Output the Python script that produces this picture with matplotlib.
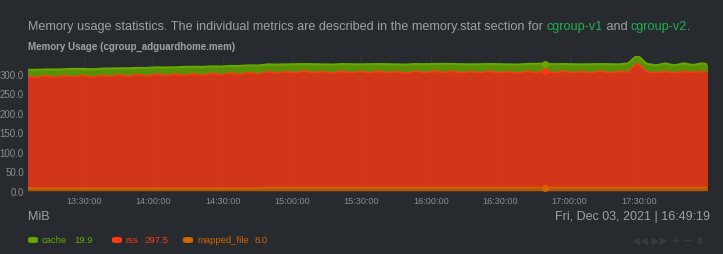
import numpy as np
import pandas as pd
import matplotlib
matplotlib.use("Agg")
import matplotlib.pyplot as plt
from matplotlib.patches import FancyBboxPatch

# data (MiB), sampled every 4 minutes starting 13:05:19
start = "2021-12-03 13:05:19"
rss = [287, 283, 288, 284, 288, 285, 289, 284, 289, 286,
       290, 286, 291, 287, 292, 288, 292, 289, 293, 289,
       294, 290, 295, 291, 296, 292, 297, 293, 297, 294,
       298, 294, 297, 293, 298, 294, 297, 294, 298, 294,
       297, 293, 298, 294, 298, 295, 298, 294, 297, 294,
       298, 294, 297, 293, 298, 295, 297.5, 294, 298, 294,
       297, 294, 298, 294, 297, 296, 318, 296, 294, 297,
       294, 297, 295, 297, 295]
cache = [16, 20, 16, 20, 16.5, 20.5, 16.5, 20.5, 17, 20.5,
         17, 21, 17, 21, 17.5, 21, 17.5, 21.5, 18, 21.5,
         18, 21.5, 18, 22, 18.5, 22, 18.5, 22, 18.5, 22,
         18.5, 22, 18.5, 22, 18.5, 22, 18.5, 22, 18.5, 22,
         18.5, 22, 18.5, 22, 18.5, 22, 18.5, 22, 18.5, 22,
         18.5, 22, 18.5, 22, 18.5, 22, 19.9, 22, 18.5, 22,
         18.5, 22, 18.5, 22, 18.5, 22, 21, 21, 19, 21,
         19, 21, 19, 21, 19]
mapped_file = [6.5] * 26 + [8.0] * 49
hover_idx = 56
yticks = [0, 50, 100, 150, 200, 250, 300]
xtick_labels = ["13:30:00", "14:00:00", "14:30:00", "15:00:00", "15:30:00",
                "16:00:00", "16:30:00", "17:00:00", "17:30:00"]

BG = "#272b30"
C_CACHE = "#66aa00"
C_RSS = "#fe3912"
C_MAP = "#d66300"
TXT = "#a0a0a0"
LINK = "#1fb04c"

plt.rcParams["font.family"] = ["Liberation Sans", "DejaVu Sans"]

W, H = 723, 255
fig = plt.figure(figsize=(W / 100, H / 100), dpi=100, facecolor=BG)
ax = fig.add_axes([28 / W, 1 - 191.7 / H, (707 - 28) / W, (191.7 - 57) / H])
ax.set_facecolor(BG)

times = pd.date_range(start, periods=len(rss), freq="4min")
m = np.array(mapped_file)
r = m + np.array(rss)
c = r + np.array(cache)

ax.fill_between(times, 0, m, color=C_MAP, alpha=0.8, lw=0)
ax.fill_between(times, m, r, color=C_RSS, alpha=0.8, lw=0)
ax.fill_between(times, r, c, color=C_CACHE, alpha=0.8, lw=0)
ax.plot(times, m, color=C_MAP, lw=1.2)
ax.plot(times, r, color=C_RSS, lw=1.2)
ax.plot(times, c, color=C_CACHE, lw=1.5)

# hover markers
t0 = times[hover_idx]
ax.plot([t0], [c[hover_idx]], "o", color=C_CACHE, ms=5, mec="none", zorder=5)
ax.plot([t0], [r[hover_idx]], "o", color=C_RSS, ms=5, mec="none", zorder=5)
ax.plot([t0], [m[hover_idx]], "o", color=C_MAP, ms=5, mec="none", zorder=5)

ax.set_xlim(pd.Timestamp("2021-12-03 13:05:48"), pd.Timestamp("2021-12-03 17:59:26"))
ax.set_ylim(0, 345)
ax.set_yticks(yticks)
ax.set_yticklabels(["%.1f" % v for v in yticks])
xt = [pd.Timestamp("2021-12-03 " + s) for s in xtick_labels]
ax.set_xticks(xt)
ax.set_xticklabels(xtick_labels)
ax.tick_params(axis="both", length=0, colors="#8c8c8c")
ax.tick_params(axis="y", pad=3, labelsize=7.0)
ax.tick_params(axis="x", pad=4, labelsize=6.6)
for s in ax.spines.values():
    s.set_visible(False)
ax.grid(axis="x", color="#30353b", lw=0.8)
ax.set_axisbelow(True)


def px(x, y):
    return x / W, 1 - y / H


# description with green links
renderer = fig.canvas.get_renderer()
parts = [("Memory usage statistics. The individual metrics are described in the memory.stat section for ", TXT),
         ("cgroup-v1", LINK), (" and ", TXT), ("cgroup-v2", LINK), (".", TXT)]
x = 28
for s, col in parts:
    t = fig.text(*px(x, 27), s, color=col, fontsize=9.1, va="center", ha="left")
    x = t.get_window_extent(renderer).x1

fig.text(*px(28, 47), "Memory Usage (cgroup_adguardhome.mem)", color=TXT,
         fontsize=7.0, fontweight="bold", va="center")
fig.text(*px(28, 217), "MiB", color=TXT, fontsize=9, va="center")
fig.text(*px(710, 217), "Fri, Dec 03, 2021 | 16:49:19", color=TXT, fontsize=9,
         va="center", ha="right")

# legend
legend = [(28, C_CACHE, "cache", 42, "19.9", 74),
          (112, C_RSS, "rss", 125, "297.5", 144),
          (183, C_MAP, "mapped_file", 197, "8.0", 255)]
for sx, col, name, nx, val, vx in legend:
    x0, y0 = px(sx, 244)
    fig.patches.append(FancyBboxPatch((x0, y0), 10 / W, 6 / H,
                                      boxstyle="round,pad=0,rounding_size=0.006",
                                      transform=fig.transFigure, color=col, lw=0))
    fig.text(*px(nx, 241), name, color=col, fontsize=6.8, va="center")
    fig.text(*px(vx, 241), val, color=col, fontsize=6.8, va="center")

fig.text(*px(705, 241), "◀◀ ▶▶ + − ⬍", color="#363b41", fontsize=7.5,
         va="center", ha="right", fontweight="bold", family=["DejaVu Sans"])

fig.savefig("out.png", dpi=100, facecolor=BG)
